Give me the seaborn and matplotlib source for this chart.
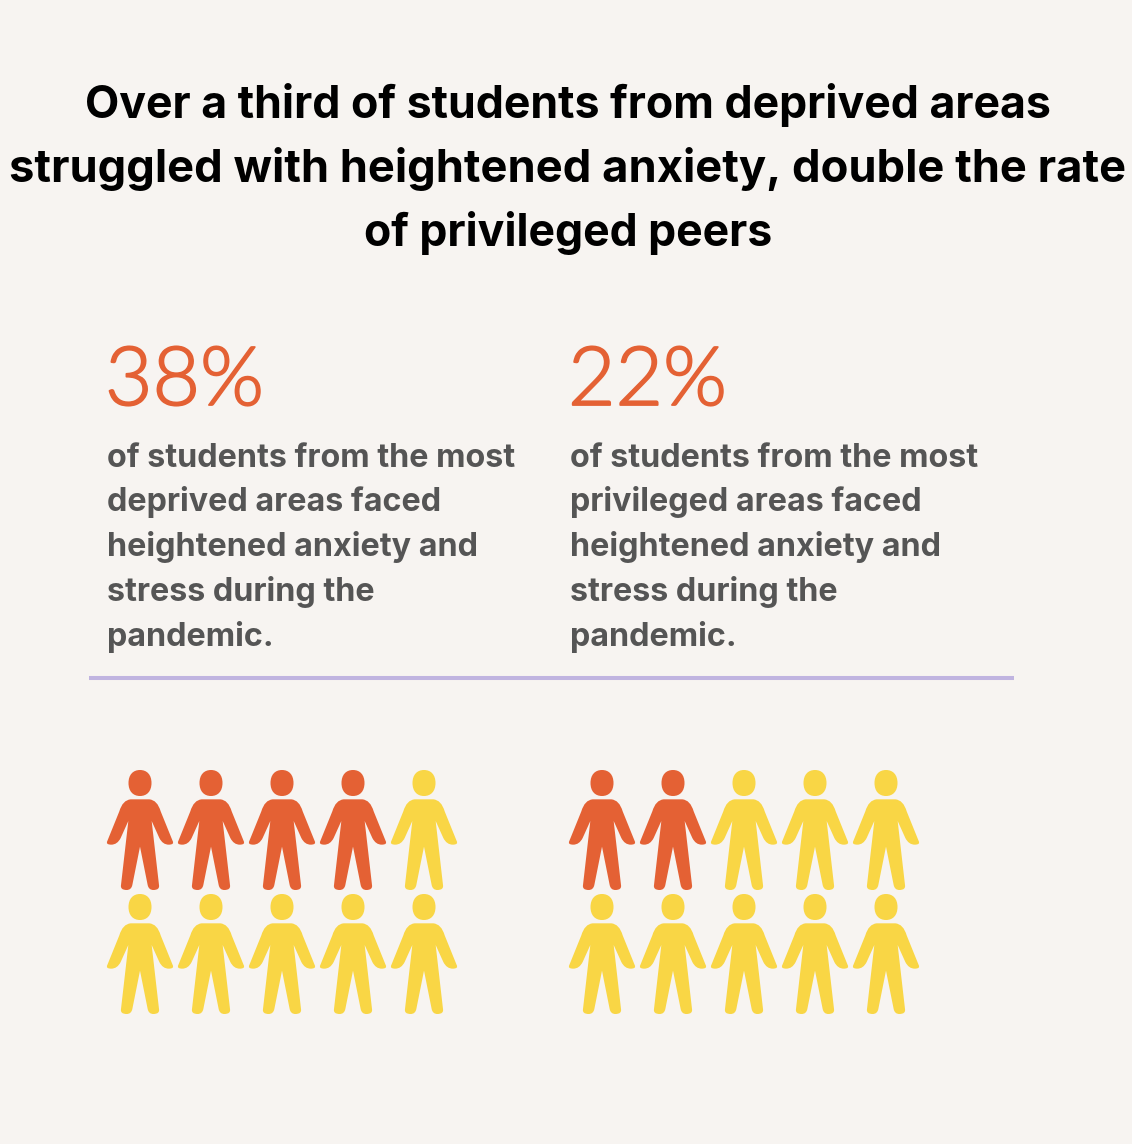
#!/usr/bin/env python3
"""Pictogram: heightened anxiety among students, deprived vs privileged areas."""

import pandas as pd
import matplotlib.pyplot as plt
import matplotlib.patheffects as pe
from matplotlib.lines import Line2D
from matplotlib.path import Path
import seaborn as sns

W, H = 1132, 1144
BG = '#F7F4F1'
ORANGE = '#E46134'
YELLOW = '#F9D645'
GREY = '#555555'

title_lines = ['Over a third of students from deprived areas',
               'struggled with heightened anxiety, double the rate',
               'of privileged peers']
title_sizes = [32.15, 32.65, 32.1]
shares = ['38%', '22%']
area_words = ['deprived', 'privileged']
people_filled = [4, 2]
people_rows = 2
people_cols = 5

sns.set_theme(style='white')
plt.rcParams['font.family'] = ['Inter', 'DejaVu Sans']

fig = plt.figure(figsize=(W / 100, H / 100), dpi=100, facecolor=BG)


def px_text(x, y, s, **kw):
    return fig.text(x / W, 1 - y / H, s, va='baseline', **kw)


def person_marker():
    # outline, half height = 180
    verts = [(0, 92)]
    codes = [Path.MOVETO]
    # right side going down
    verts += [(28, 92), (52, 90), (62, 56)]
    codes += [Path.LINETO, Path.CURVE3, Path.CURVE3]
    verts += [(98, -33), (104, -44), (86, -44), (68, -44), (58, -24), (35, 27)]
    codes += [Path.LINETO, Path.CURVE3, Path.CURVE3, Path.CURVE3, Path.CURVE3, Path.LINETO]
    verts += [(57, -165), (60, -180), (40, -180), (26, -180), (23, -165), (0, -50)]
    codes += [Path.LINETO, Path.CURVE3, Path.CURVE3, Path.CURVE3, Path.CURVE3, Path.LINETO]
    # mirrored left side going back up
    mirrored_v = [(-x, y) for x, y in verts[::-1]][1:]
    mirrored_c = codes[::-1][:-1]
    all_v = verts + mirrored_v + [(0, 92)]
    all_c = codes + mirrored_c + [Path.CLOSEPOLY]
    # head
    rx, ry, cy = 34.5, 39, 141
    k = 0.62
    head_v = [(0, cy + ry),
              (k * rx, cy + ry), (rx, cy + k * ry), (rx, cy),
              (rx, cy - k * ry), (k * rx, cy - ry), (0, cy - ry),
              (-k * rx, cy - ry), (-rx, cy - k * ry), (-rx, cy),
              (-rx, cy + k * ry), (-k * rx, cy + ry), (0, cy + ry),
              (0, cy + ry)]
    head_c = [Path.MOVETO] + [Path.CURVE4] * 12 + [Path.CLOSEPOLY]
    return Path(all_v + head_v, all_c + head_c)


marker = person_marker()

# title
for i, (line, size) in enumerate(zip(title_lines, title_sizes)):
    px_text(568, 118 + 64 * i, line, ha='center', fontsize=size, fontweight='bold', color='black')

# two text columns
left_edges = [107, 570]
for left, share, word in zip(left_edges, shares, area_words):
    t = px_text(left - 2, 405, share, fontsize=59, color=ORANGE, fontweight=300,
                family=['Lato', 'DejaVu Sans'])
    t.set_path_effects([pe.withStroke(linewidth=1.3, foreground=ORANGE)])
    body = ['of students from the most', f'{word} areas faced',
            'heightened anxiety and', 'stress during the', 'pandemic.']
    for j, line in zip([467, 511, 556, 601, 646], body):
        px_text(left, j, line, fontsize=23.25, fontweight='bold', color=GREY)

# divider
fig.add_artist(Line2D([89 / W, 1014 / W], [1 - 678 / H, 1 - 678 / H], color='#C0B4E0', lw=2.9,
                      solid_capstyle='butt'))

# pictograms
panel_lefts = [104.5, 566.5]
for left, filled in zip(panel_lefts, people_filled):
    ax = fig.add_axes([left / W, 1 - 1016 / H, 355 / W, 248 / H])
    ax.patch.set_alpha(0)
    cells = [{'col': c, 'row': r, 'state': 'anxious' if r * people_cols + c < filled else 'other'}
             for r in range(people_rows) for c in range(people_cols)]
    df = pd.DataFrame(cells)
    sns.scatterplot(data=df, x='col', y='row', hue='state',
                    palette={'anxious': ORANGE, 'other': YELLOW},
                    marker=marker, s=7465, linewidth=0, legend=False, ax=ax, clip_on=False)
    ax.set_xlim(-0.5, people_cols - 0.5)
    ax.set_ylim(people_rows - 0.5, -0.5)
    ax.axis('off')

plt.savefig('out.png', dpi=100, facecolor=BG)
